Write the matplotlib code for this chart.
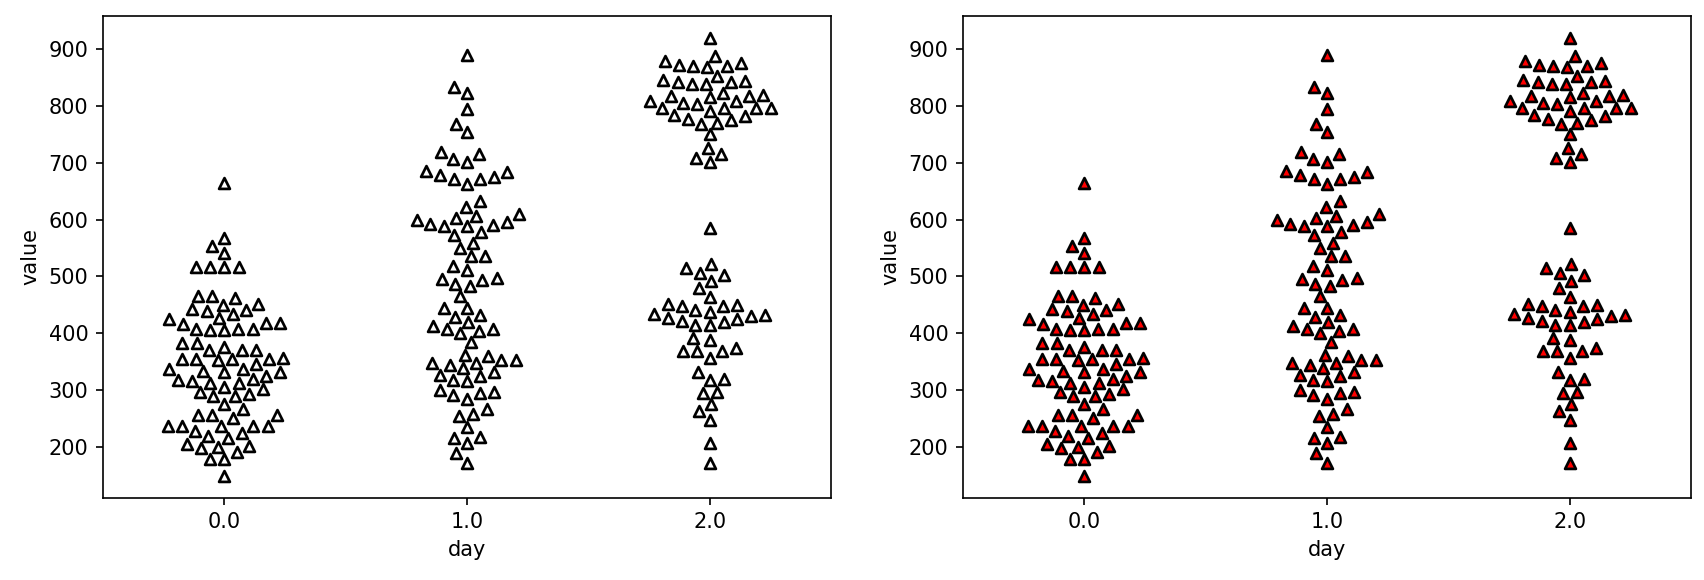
import matplotlib
matplotlib.use("Agg")
import matplotlib.pyplot as plt
import numpy as np

# values, one list per day
day0 = [664, 568, 553, 541, 517, 517, 517, 517,
        466, 466, 462, 452, 450, 442, 440, 439, 433, 427, 424, 418, 416, 418,
        408, 405, 405, 408, 408,
        383, 383, 371, 371, 371, 375,
        355, 355, 355, 352, 355, 357, 345,
        337, 331, 325, 336, 331, 334,
        316, 313, 313, 319, 318,
        305, 296, 290, 290, 293, 302,
        275, 267, 255, 255, 255, 251,
        237, 237, 237, 237, 237,
        228, 224, 218, 216,
        205, 197, 202, 191, 200,
        179, 179, 149]
day1 = [889, 834, 823, 794, 769, 754, 719, 715, 706, 702, 685, 678, 684, 671, 672, 675, 663,
        632, 623, 609, 606, 600, 603, 595, 591, 588, 592, 589, 578, 572, 559, 550, 536, 535,
        519, 512, 496, 493, 497, 483, 487, 465, 444, 444, 432, 428, 420, 407, 400, 403, 407, 412,
        384, 360, 362, 347, 344, 347, 352, 352, 338, 327, 332, 324, 315, 317, 300, 294, 297,
        291, 284, 266, 258, 254, 234, 215, 217, 207, 188, 172]
day2 = [920, 888, 873, 870, 869, 870, 876, 879, 844, 843, 839, 839, 843, 845, 853, 823,
        819, 816, 817, 817, 809, 809, 804, 806, 796, 796, 796, 796, 792, 785, 778, 782,
        775, 770, 769, 750, 726, 716, 709, 702,
        585, 521, 515, 506, 502, 492, 479, 463, 451, 447, 447, 449, 438, 440, 432, 431,
        434, 427, 424, 421, 419, 415, 414, 388, 391, 374, 368, 369, 368, 357, 331, 318,
        319, 295, 297, 275, 262, 247, 206, 172]
days = [0.0, 1.0, 2.0]
values = [day0, day1, day2]
fills = ["white", "red"]

MSIZE = 5.2
LW = 1.3


def swarm(ax, pos, vals, size_pt, lw):
    # beeswarm placement in pixel space, like seaborn's swarmplot
    fig = ax.figure
    r = (size_pt + lw) / 2 * fig.dpi / 72
    vals = np.asarray(vals, dtype=float)
    order = np.argsort(vals, kind="mergesort")
    pts = ax.transData.transform(np.column_stack([np.full(len(vals), pos), vals]))
    pts = pts[order]
    mid = pts[0, 0]
    placed = [pts[0].copy()]
    for p in pts[1:]:
        neigh = [q for q in placed if p[1] - q[1] < 2 * r]
        cands = [p.copy()]
        left = True
        for q in neigh:
            dy = p[1] - q[1]
            dx = np.sqrt(max((2 * r) ** 2 - dy ** 2, 0)) * 1.05
            cl = np.array([q[0] - dx, p[1]])
            cr = np.array([q[0] + dx, p[1]])
            cands += [cl, cr] if left else [cr, cl]
            left = not left
        cands.sort(key=lambda c: abs(c[0] - mid))
        chosen = cands[0]
        for c in cands:
            if all((q[0] - c[0]) ** 2 + (q[1] - c[1]) ** 2 >= (2 * r) ** 2 - 1e-9 for q in neigh):
                chosen = c
                break
        placed.append(chosen)
    placed = np.array(placed)
    back = ax.transData.inverted().transform(placed)
    out = np.empty_like(back)
    out[order] = back
    return out


fig = plt.figure(figsize=(1704 / 150, 580 / 150), dpi=150)
W, H = 1704, 580
ax1 = fig.add_axes([103 / W, (H - 497.5) / H, 728 / W, 481.5 / H])
ax2 = fig.add_axes([963 / W, (H - 497.5) / H, 728 / W, 481.5 / H])

for ax, fc in zip([ax1, ax2], fills):
    for i, v in enumerate(values):
        ax.scatter(np.full(len(v), i), v, marker="^", s=MSIZE ** 2,
                   facecolor=fc, edgecolor="black", linewidth=LW, zorder=3)
    ax.set_xlim(-0.5, 2.5)
    ax.set_xticks(range(len(days)))
    ax.set_xticklabels([str(d) for d in days])
    ax.set_xlabel("day")
    ax.set_ylabel("value")
    allv = np.concatenate(values)
    pad = (allv.max() - allv.min()) * 0.05
    ax.set_ylim(allv.min() - pad, allv.max() + pad)

fig.canvas.draw()
for ax in [ax1, ax2]:
    for i, c in enumerate(ax.collections):
        c.set_offsets(swarm(ax, i, values[i], MSIZE, LW))

fig.savefig("out.png", dpi=150)
